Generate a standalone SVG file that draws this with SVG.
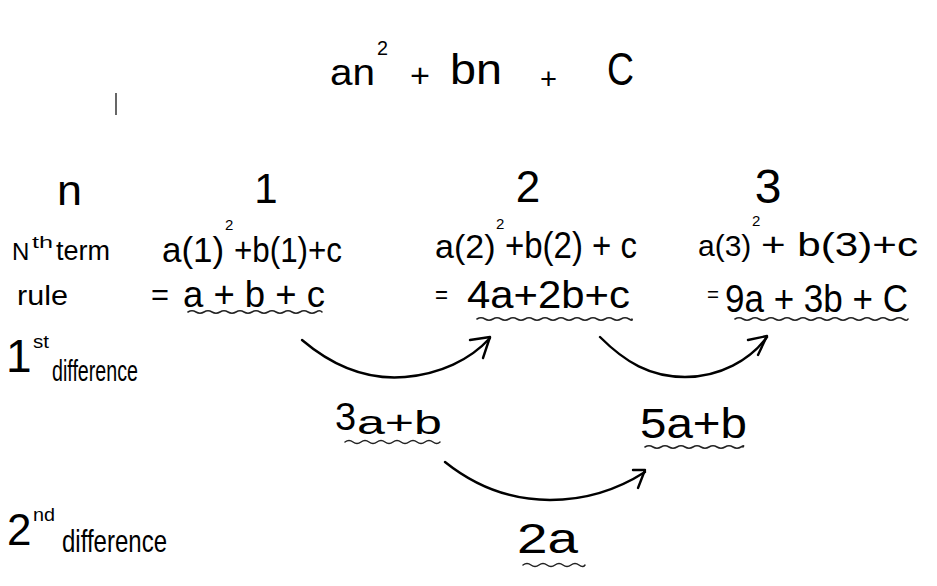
<svg xmlns="http://www.w3.org/2000/svg" width="937" height="586" viewBox="0 0 937 586">
<style>
  text { font-family: "Liberation Sans", Arial, sans-serif; fill: #000; }
  .conn { fill: none; stroke: #000; stroke-width: 2.4; stroke-linecap: round; stroke-linejoin: round; }
  .wavy { fill: none; stroke: #222; stroke-width: 1.5; stroke-linecap: round; }
</style>
<rect width="937" height="586" fill="#fff"/>

<g id="title">
  <text><tspan x="330" y="85" font-size="36" textLength="45" lengthAdjust="spacingAndGlyphs">an</tspan><tspan x="377" y="55" font-size="20" textLength="11" lengthAdjust="spacingAndGlyphs">2</tspan><tspan x="410" y="87" font-size="34" textLength="20" lengthAdjust="spacingAndGlyphs">+</tspan><tspan x="450" y="84" font-size="42" textLength="52" lengthAdjust="spacingAndGlyphs">bn</tspan><tspan x="540" y="89" font-size="30" textLength="17" lengthAdjust="spacingAndGlyphs">+</tspan><tspan x="607" y="85" font-size="46" textLength="27" lengthAdjust="spacingAndGlyphs">C</tspan></text>
</g>
<g id="cursor">
  <line x1="116" y1="93" x2="116" y2="115" stroke="#000" stroke-width="1.2"/>
</g>

<g id="labels">
  <text x="57" y="205" font-size="42" textLength="25" lengthAdjust="spacingAndGlyphs">n</text>
  <text><tspan x="12" y="260" font-size="24">N</tspan><tspan x="32" y="248" font-size="16" textLength="21" lengthAdjust="spacingAndGlyphs">th</tspan><tspan x="56" y="260" font-size="27" textLength="54" lengthAdjust="spacingAndGlyphs">term</tspan></text>
  <text x="17" y="305" font-size="28" textLength="51" lengthAdjust="spacingAndGlyphs">rule</text>
  <text><tspan x="6" y="372" font-size="46">1</tspan><tspan x="33" y="348" font-size="18" textLength="16" lengthAdjust="spacingAndGlyphs">st</tspan><tspan x="52" y="381" font-size="30" textLength="86" lengthAdjust="spacingAndGlyphs">difference</tspan></text>
  <text><tspan x="7" y="545" font-size="44">2</tspan><tspan x="33" y="521" font-size="18" textLength="22" lengthAdjust="spacingAndGlyphs">nd</tspan><tspan x="62" y="552" font-size="32" textLength="105" lengthAdjust="spacingAndGlyphs">difference</tspan></text>
</g>

<g id="n1">
  <text x="266" y="203" font-size="42" text-anchor="middle">1</text>
  <text><tspan x="162" y="262" font-size="35">a(1)</tspan><tspan x="225" y="230" font-size="15">2</tspan><tspan x="234" y="262" font-size="35" textLength="108" lengthAdjust="spacingAndGlyphs">+b(1)+c</tspan></text>
  <text><tspan x="151" y="305" font-size="30" textLength="18" lengthAdjust="spacingAndGlyphs">=</tspan><tspan x="183" y="307" font-size="36" textLength="142" lengthAdjust="spacingAndGlyphs">a + b + c</tspan></text>
  <path class="wavy" d="M188 312 q4 -2.5 8 0 t8 0 t8 0 t8 0 t8 0 t8 0 t8 0 t8 0 t8 0 t8 0 t8 0 t8 0 t8 0 t8 0 t8 0 t8 0 t6 0"/>
</g>

<g id="n2">
  <text x="528" y="202" font-size="44" text-anchor="middle">2</text>
  <text><tspan x="435" y="258" font-size="34">a(2)</tspan><tspan x="496" y="229" font-size="15">2</tspan><tspan x="505" y="258" font-size="36" textLength="132" lengthAdjust="spacingAndGlyphs">+b(2) + c</tspan></text>
  <text><tspan x="435" y="303" font-size="26" textLength="13" lengthAdjust="spacingAndGlyphs">=</tspan><tspan x="467" y="308" font-size="38" textLength="163" lengthAdjust="spacingAndGlyphs">4a+2b+c</tspan></text>
  <path class="wavy" d="M477 319 q4 -2.5 8 0 t8 0 t8 0 t8 0 t8 0 t8 0 t8 0 t8 0 t8 0 t8 0 t8 0 t8 0 t8 0 t8 0 t8 0 t8 0 t8 0 t8 0 t8 0 t3 0"/>
</g>

<g id="n3">
  <text x="768" y="203" font-size="48" text-anchor="middle">3</text>
  <text><tspan x="698" y="256" font-size="30">a(3)</tspan><tspan x="752" y="226" font-size="15">2</tspan><tspan x="761" y="256" font-size="34" textLength="157" lengthAdjust="spacingAndGlyphs">+ b(3)+c</tspan></text>
  <text><tspan x="707" y="302" font-size="22" textLength="12" lengthAdjust="spacingAndGlyphs">=</tspan><tspan x="725" y="312" font-size="38" textLength="183" lengthAdjust="spacingAndGlyphs">9a + 3b + C</tspan></text>
  <path class="wavy" d="M735 319 q4 -2.5 8 0 t8 0 t8 0 t8 0 t8 0 t8 0 t8 0 t8 0 t8 0 t8 0 t8 0 t8 0 t8 0 t8 0 t8 0 t8 0 t8 0 t8 0 t8 0 t8 0 t8 0 t5 0"/>
</g>

<g id="d1">
  <text><tspan x="335" y="430" font-size="38">3</tspan><tspan x="357" y="434" font-size="34" textLength="85" lengthAdjust="spacingAndGlyphs">a+b</tspan></text>
  <path class="wavy" d="M345 442 q4 -3 8 0 t8 0 t8 0 t8 0 t8 0 t8 0 t8 0 t8 0 t8 0 t8 0 t8 0 t7 0"/>
</g>

<g id="d2">
  <text x="640" y="438" font-size="42" textLength="107" lengthAdjust="spacingAndGlyphs">5a+b</text>
  <path class="wavy" d="M645 447 q4 -2.5 8 0 t8 0 t8 0 t8 0 t8 0 t8 0 t8 0 t8 0 t8 0 t8 0 t8 0 t8 0 t2 0"/>
</g>

<g id="dd">
  <text x="517" y="553" font-size="42" textLength="61" lengthAdjust="spacingAndGlyphs">2a</text>
  <path class="wavy" d="M523 565 q4 -3 8 0 t8 0 t8 0 t8 0 t8 0 t8 0 t8 0 t6 0"/>
</g>

<g id="connectors">
  <path class="conn" d="M302 340 C 335 368, 370 380, 405 377 C 440 374, 470 360, 490 338"/>
  <path class="conn" d="M470 340 L490 337 L483 358"/>
  <path class="conn" d="M600 337 C 625 362, 650 377, 685 377 C 720 377, 750 360, 767 337"/>
  <path class="conn" d="M748 340 L767 336 L758 355"/>
  <path class="conn" d="M445 462 C 480 490, 515 500, 550 500 C 590 500, 620 488, 645 472"/>
  <path class="conn" d="M633 470 L645 470 L638 488"/>
</g>
</svg>
